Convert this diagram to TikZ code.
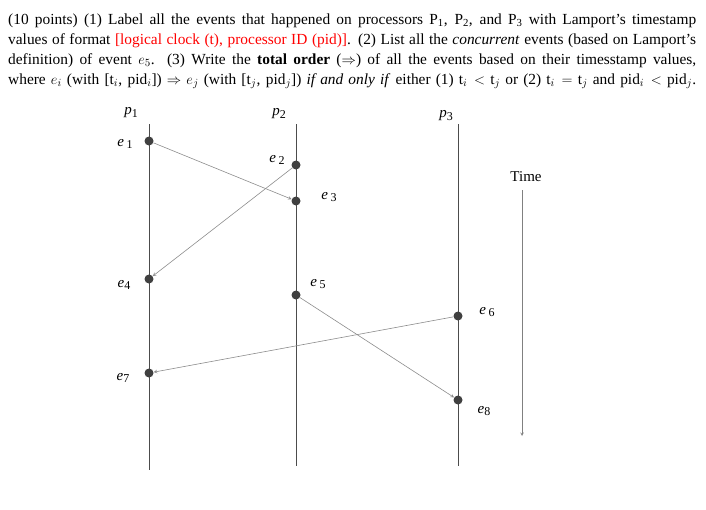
\documentclass[tikz,border=0pt]{standalone}
\usepackage{fontspec}
\setmainfont{Liberation Serif}
\usepackage{xcolor}
\newcommand{\evl}[2]{#1\raisebox{-0.35ex}{\fontsize{12}{12}\selectfont\upshape #2}}
\newcommand{\jline}[1]{\makebox[688pt][s]{#1}}
\begin{document}
\begin{tikzpicture}[x=1pt,y=-1pt,
 proc/.style={draw=black!70,line width=1pt},
 ev/.style={circle,fill=black!75,inner sep=0pt,minimum size=9pt},
 msg/.style={draw=black!45,line width=0.6pt,-stealth},
 lab/.style={font=\fontsize{15}{15}\selectfont\itshape},
 txt/.style={anchor=west,inner sep=0pt,font=\fontsize{15.4}{15.4}\selectfont}]
\useasboundingbox (0,0) rectangle (706,509);
\node[txt] (t1) at (8,21) {\jline{(10 points) (1) Label all the events that happened on processors P\textsubscript{1}, P\textsubscript{2}, and P\textsubscript{3} with Lamport's timestamp}};
\node[txt] (t2) at (8,41) {\jline{values of format \textcolor{red}{[logical clock (t), processor ID (pid)]}. (2) List all the \textit{concurrent} events (based on Lamport's}};
\node[txt] (t3) at (8,61) {\jline{definition) of event $e_5$. (3) Write the \textbf{total order} ($\Rightarrow$) of all the events based on their timesstamp values,}};
\node[txt] (t4) at (8,81) {\jline{where $e_i$ (with [t$_i$, pid$_i$]) $\Rightarrow$ $e_j$ (with [t$_j$, pid$_j$]) \textit{if and only if} either (1) t$_i<$ t$_j$ or (2) t$_i=$ t$_j$ and pid$_i<$ pid$_j$.}};
\coordinate (a1) at (149,124); \coordinate (b1) at (149,470);
\coordinate (a2) at (296,124); \coordinate (b2) at (296,466);
\coordinate (a3) at (458,124); \coordinate (b3) at (458,466);
\draw[proc] (a1)--(b1); \draw[proc] (a2)--(b2); \draw[proc] (a3)--(b3);
\node[lab] (p1) at (131,113) {\evl{p}{1}};
\node[lab] (p2) at (279,114) {\evl{p}{2}};
\node[lab] (p3) at (446,116) {\evl{p}{3}};
\node[ev] (e1) at (149,141) {}; \node[ev] (e2) at (296,165) {};
\node[ev] (e3) at (296,201) {}; \node[ev] (e4) at (149,279) {};
\node[ev] (e5) at (296,295) {}; \node[ev] (e6) at (458,316) {};
\node[ev] (e7) at (149,373) {}; \node[ev] (e8) at (458,400) {};
\node[lab] (l1) at (125,144) {\evl{e\,}{1}};
\node[lab] (l2) at (277,160) {\evl{e\,}{2}};
\node[lab] (l3) at (329,197) {\evl{e\,}{3}};
\node[lab] (l4) at (124,285) {\evl{e}{4}};
\node[lab] (l5) at (318,284) {\evl{e\,}{5}};
\node[lab] (l6) at (487,312) {\evl{e\,}{6}};
\node[lab] (l7) at (123,378) {\evl{e}{7}};
\node[lab] (l8) at (484,411) {\evl{e}{8}};
\draw[msg] (e1)--(e3); \draw[msg] (e2)--(e4);
\draw[msg] (e5)--(e8); \draw[msg] (e6)--(e7);
\coordinate (ta) at (522,190); \coordinate (tb) at (522,436);
\draw[draw=black!50,line width=0.6pt,-stealth] (ta)--(tb);
\node[font=\fontsize{15}{15}\selectfont] (time) at (526,177) {Time};
\end{tikzpicture}
\end{document}
